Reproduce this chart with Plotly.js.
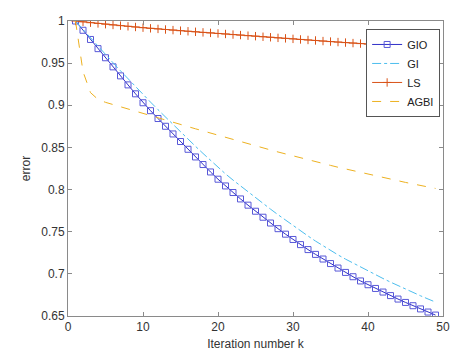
<!DOCTYPE html>
<html>
<head>
<meta charset="utf-8">
<script src="https://cdn.plot.ly/plotly-3.0.1.min.js"></script>
<style>html,body{margin:0;padding:0;background:#fff;}#chart{width:474px;height:355px;}</style>
</head>
<body>
<div id="chart"></div>
<script>
const iterations = [1,2,3,4,5,6,7,8,9,10,11,12,13,14,15,16,17,18,19,20,21,22,23,24,25,26,27,28,29,30,31,32,33,34,35,36,37,38,39,40,41,42,43,44,45,46,47,48,49];

const gio = [1.0000,0.9890,0.9781,0.9672,0.9564,0.9456,0.9349,0.9242,0.9136,0.9030,
  0.8936,0.8843,0.8751,0.8660,0.8570,0.8478,0.8387,0.8297,0.8209,0.8123,
  0.8043,0.7965,0.7889,0.7815,0.7743,0.7672,0.7603,0.7536,0.7471,0.7408,
  0.7347,0.7288,0.7231,0.7176,0.7122,0.7069,0.7017,0.6966,0.6916,0.6871,
  0.6827,0.6784,0.6742,0.6701,0.6661,0.6622,0.6584,0.6547,0.6511];

const gi = [1.0000,0.9899,0.9799,0.9700,0.9602,0.9505,0.9409,0.9314,0.9221,0.9129,
  0.9038,0.8948,0.8859,0.8771,0.8684,0.8598,0.8513,0.8429,0.8346,0.8264,
  0.8186,0.8113,0.8042,0.7972,0.7903,0.7835,0.7768,0.7702,0.7637,0.7573,
  0.7510,0.7449,0.7389,0.7331,0.7277,0.7225,0.7175,0.7127,0.7080,0.7034,
  0.6989,0.6945,0.6902,0.6860,0.6819,0.6779,0.6740,0.6702,0.6665];

const ls = [1.0000,0.9990,0.9980,0.9971,0.9962,0.9953,0.9945,0.9937,0.9929,0.9921,
  0.9913,0.9906,0.9899,0.9892,0.9885,0.9878,0.9872,0.9865,0.9859,0.9852,
  0.9846,0.9839,0.9833,0.9826,0.9820,0.9813,0.9807,0.9800,0.9794,0.9788,
  0.9781,0.9775,0.9769,0.9762,0.9756,0.9750,0.9744,0.9738,0.9732,0.9726,
  0.9720,0.9714,0.9708,0.9702,0.9697,0.9691,0.9686,0.9681,0.9676];

const agbi = [1.000,0.940,0.915,0.907,0.9035,0.9008,0.8981,0.8955,0.8929,0.8903,
  0.8877,0.8851,0.8825,0.8799,0.8773,0.8747,0.8721,0.8695,0.8669,0.8643,
  0.8618,0.8593,0.8568,0.8543,0.8518,0.8494,0.8470,0.8446,0.8422,0.8399,
  0.8376,0.8353,0.8331,0.8309,0.8287,0.8265,0.8244,0.8223,0.8202,0.8181,
  0.8160,0.8140,0.8121,0.8103,0.8085,0.8067,0.8049,0.8031,0.8013];

const seriesNames = ['GIO','GI','LS','AGBI'];
const xTicks = [0,10,20,30,40,50];
const yTicks = [0.65,0.7,0.75,0.8,0.85,0.9,0.95,1];
const yTickText = ['0.65','0.7','0.75','0.8','0.85','0.9','0.95','1'];

const traces = [
  {x: iterations, y: gio, name: seriesNames[0], type: 'scatter', mode: 'lines+markers',
   line: {color: '#3030c8', width: 1},
   marker: {symbol: 'square-open', size: 6, color: '#5858d8', line: {width: 1, color: '#5858d8'}}},
  {x: iterations, y: gi, name: seriesNames[1], type: 'scatter', mode: 'lines',
   line: {color: '#4DBEEE', width: 1, dash: 'dashdot'}},
  {x: iterations, y: ls, name: seriesNames[2], type: 'scatter', mode: 'lines+markers',
   line: {color: '#D95319', width: 1},
   marker: {symbol: 'cross-thin-open', size: 6, color: '#D95319', line: {width: 1, color: '#D95319'}}},
  {x: iterations, y: agbi, name: seriesNames[3], type: 'scatter', mode: 'lines',
   line: {color: '#EDB120', width: 1, dash: 'dash'}}
];

const axisCommon = {
  showgrid: false, zeroline: false, showline: true, linecolor: '#8a8a8a', linewidth: 1,
  mirror: 'ticks', ticks: 'inside', ticklen: 4, tickcolor: '#8a8a8a',
  tickfont: {family: 'Liberation Sans, Arial, sans-serif', size: 12, color: '#333'}
};

const layout = {
  width: 474, height: 355,
  margin: {l: 68, r: 31, t: 21, b: 39},
  paper_bgcolor: '#fff', plot_bgcolor: '#fff',
  font: {family: 'Liberation Sans, Arial, sans-serif', size: 12, color: '#333'},
  showlegend: true,
  legend: {x: 0.795, y: 0.973, xanchor: 'left', yanchor: 'top',
    bgcolor: '#fff', bordercolor: '#555', borderwidth: 1,
    font: {family: 'Liberation Sans, Arial, sans-serif', size: 11, color: '#222'},
    tracegroupgap: 0, itemwidth: 30},
  xaxis: Object.assign({}, axisCommon, {range: [0, 50], tickvals: xTicks,
    title: {text: 'Iteration number k', standoff: 6, font: {size: 12, color: '#333'}}}),
  yaxis: Object.assign({}, axisCommon, {range: [0.65, 1], tickvals: yTicks, ticktext: yTickText,
    title: {text: 'error', standoff: 8, font: {size: 12, color: '#333'}}})
};

Plotly.newPlot('chart', traces, layout, {displayModeBar: false, staticPlot: true});
</script>
</body>
</html>
